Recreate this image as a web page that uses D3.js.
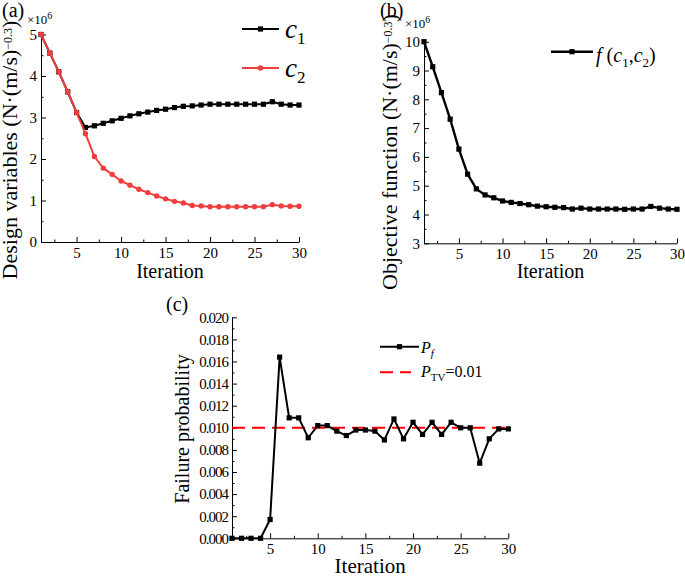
<!DOCTYPE html>
<html>
<head>
<meta charset="utf-8">
<script src="https://cdn.jsdelivr.net/npm/d3@7"></script>
<style>
	body { margin: 0; background: #fff; }
</style>
</head>
<body>
<svg id="chart" width="685" height="576"></svg>
<script>
	// iteration numbers (x) and the series
	var iterations = [1,2,3,4,5,6,7,8,9,10,11,12,13,14,15,16,17,18,19,20,21,22,23,24,25,26,27,28,29,30];
	var c1 = [5.00,4.55,4.10,3.62,3.12,2.76,2.80,2.86,2.92,2.98,3.04,3.09,3.13,3.17,3.20,3.24,3.27,3.28,3.30,3.32,3.32,3.32,3.32,3.32,3.32,3.32,3.38,3.32,3.30,3.30];
	var c2 = [5.00,4.55,4.10,3.62,3.12,2.61,2.06,1.78,1.63,1.47,1.37,1.27,1.19,1.11,1.04,0.98,0.94,0.88,0.87,0.85,0.85,0.85,0.85,0.85,0.85,0.85,0.90,0.87,0.86,0.86];
	var objective = [10.0,9.13,8.23,7.31,6.27,5.40,4.89,4.68,4.58,4.47,4.42,4.38,4.34,4.29,4.27,4.25,4.24,4.19,4.22,4.19,4.19,4.19,4.19,4.18,4.19,4.19,4.28,4.22,4.19,4.18];
	var pf = [0,0,0,0,0.0017,0.0164,0.0109,0.0109,0.0091,0.0102,0.0102,0.0097,0.0093,0.0098,0.0098,0.0097,0.0089,0.0108,0.0090,0.0105,0.0094,0.0105,0.0094,0.0105,0.0100,0.0100,0.0068,0.0090,0.0099,0.0099];
	var pTV = 0.01;

	var xTicks = [5,10,15,20,25,30];
	var xMinor = [2.5,7.5,12.5,17.5,22.5,27.5];
	var ticksA = [0,1,2,3,4,5];
	var ticksB = [3,4,5,6,7,8,9,10];
	var ticksC = [0,0.002,0.004,0.006,0.008,0.010,0.012,0.014,0.016,0.018,0.020];

	var FONT = "'Liberation Serif', 'Times New Roman', serif";
	var RED = "#ef3e3e";
	var svg = d3.select("#chart").style("font-family", FONT);

	// one panel: left + bottom axes, ticks pointing inward, minor ticks halfway
	function panel(cfg) {
		var x = d3.scaleLinear().domain([1, 30]).range([cfg.left, cfg.right]);
		var y = d3.scaleLinear().domain(cfg.yDomain).range([cfg.bottom, cfg.top]);
		var g = svg.append("g");

		var minorY = [];
		for (var i = 0; i < cfg.yTicks.length - 1; i++) minorY.push((cfg.yTicks[i] + cfg.yTicks[i+1]) / 2);

		g.append("g").attr("transform", "translate(0," + cfg.bottom + ")")
			.call(d3.axisBottom(x).tickValues(xMinor).tickSizeInner(-2.5).tickSizeOuter(0).tickFormat(""))
			.call(function(s) { s.select(".domain").remove(); });
		g.append("g").attr("transform", "translate(" + cfg.left + ",0)")
			.call(d3.axisLeft(y).tickValues(minorY).tickSizeInner(-2.5).tickSizeOuter(0).tickFormat(""))
			.call(function(s) { s.select(".domain").remove(); });

		g.append("g").attr("transform", "translate(0," + cfg.bottom + ")")
			.call(d3.axisBottom(x).tickValues(xTicks).tickSizeInner(-5).tickSizeOuter(0).tickPadding(5.5));
		var ya = g.append("g").attr("transform", "translate(" + cfg.left + ",0)")
			.call(d3.axisLeft(y).tickValues(cfg.yTicks).tickSizeInner(-5).tickSizeOuter(0).tickPadding(4).tickFormat(cfg.fmt));
		g.selectAll("g").attr("font-family", FONT).attr("font-size", 15);
		g.selectAll(".tick text").style("font-family", FONT).style("font-size", "15px");
		if (cfg.yLetter) ya.selectAll(".tick text").style("letter-spacing", cfg.yLetter);
		g.selectAll(".domain, .tick line").attr("stroke", "#000");

		g.append("text")
			.attr("x", (cfg.left + cfg.right) / 2)
			.attr("y", cfg.xLabelY)
			.attr("text-anchor", "middle")
			.style("font-family", FONT)
			.style("font-size", cfg.xLabelSize + "px")
			.text("Iteration");

		return { g: g, x: x, y: y };
	}

	function series(p, values, color, width, marker) {
		var pts = iterations.map(function(it, i) { return [it, values[i]]; });
		p.g.append("path")
			.datum(pts)
			.attr("fill", "none")
			.attr("stroke", color)
			.attr("stroke-width", width)
			.attr("stroke-linejoin", "round")
			.attr("d", d3.line().x(function(d) { return p.x(d[0]); }).y(function(d) { return p.y(d[1]); }));
		if (marker == "circle") {
			p.g.append("g").selectAll("circle").data(pts).enter().append("circle")
				.attr("cx", function(d) { return p.x(d[0]); })
				.attr("cy", function(d) { return p.y(d[1]); })
				.attr("r", 2.7)
				.attr("fill", color);
		} else {
			p.g.append("g").selectAll("rect").data(pts).enter().append("rect")
				.attr("x", function(d) { return p.x(d[0]) - 2.6; })
				.attr("y", function(d) { return p.y(d[1]) - 2.6; })
				.attr("width", 5.2).attr("height", 5.2)
				.attr("fill", color);
		}
	}

	// rotated y label with the (m/s)^-0.3 unit
	function yLabel(x, y, size, main) {
		var t = svg.append("text")
			.attr("transform", "translate(" + x + "," + y + ") rotate(-90)")
			.attr("text-anchor", "middle")
			.style("font-family", FONT)
			.style("font-size", size + "px");
		t.append("tspan").text(main);
		if (main.indexOf("(N") >= 0) {
			t.append("tspan").attr("dy", -5).style("font-size", "12px").text("\u22120.3");
			t.append("tspan").attr("dy", 5).text(")");
		}
	}

	function label(x, y, txt, size) {
		svg.append("text").attr("x", x).attr("y", y)
			.style("font-family", FONT).style("font-size", size + "px").text(txt);
	}

	function times10(x, y) {
		var t = svg.append("text").attr("x", x).attr("y", y)
			.style("font-family", FONT).style("font-size", "13px");
		t.append("tspan").text("\u00d710");
		t.append("tspan").attr("dy", -5).style("font-size", "10px").text("6");
	}

	// legend text with italic letters and subscripts: parts = [text, italic, dy, size]
	function richText(x, y, size, parts) {
		var t = svg.append("text").attr("x", x).attr("y", y)
			.style("font-family", FONT).style("font-size", size + "px");
		var shift = 0;
		parts.forEach(function(p) {
			var s = t.append("tspan").text(p[0]);
			if (p[1]) s.style("font-style", "italic");
			var want = p[2] ? p[2] : 0;
			if (want != shift) { s.attr("dy", want - shift); shift = want; }
			if (p[2]) s.style("font-size", (p[3] || size * 0.65) + "px");
		});
		return t;
	}

	function legendLine(x0, x1, y, color, width, marker, dash) {
		svg.append("line").attr("x1", x0).attr("x2", x1).attr("y1", y).attr("y2", y)
			.attr("stroke", color).attr("stroke-width", width)
			.attr("stroke-dasharray", dash || null);
		var cx = (x0 + x1) / 2;
		if (marker == "circle") {
			svg.append("circle").attr("cx", cx).attr("cy", y).attr("r", 2.7).attr("fill", color);
		} else if (marker == "square") {
			svg.append("rect").attr("x", cx - 2.6).attr("y", y - 2.6).attr("width", 5.2).attr("height", 5.2).attr("fill", color);
		}
	}

	// (a) design variables
	var pa = panel({ left: 41, right: 299, top: 34.5, bottom: 242, yDomain: [0, 5], yTicks: ticksA,
		fmt: d3.format("d"), xLabelY: 278, xLabelSize: 20 });
	series(pa, c1, "#000", 2, "square");
	series(pa, c2, RED, 2, "circle");
	yLabel(17, 150, 22, "Design variables (N\u00b7(m/s)");
	label(2, 17, "(a)", 20);
	times10(27, 24);
	legendLine(242, 279, 29, "#000", 2, "square");
	richText(285, 38, 27, [["c", true], ["1", false, 6, 17]]);
	legendLine(242, 279, 68, RED, 2, "circle");
	richText(285, 77, 27, [["c", true], ["2", false, 6, 17]]);

	// (b) objective function
	var pb = panel({ left: 424, right: 677, top: 41.7, bottom: 243.3, yDomain: [3, 10], yTicks: ticksB,
		fmt: d3.format("d"), xLabelY: 278, xLabelSize: 20 });
	series(pb, objective, "#000", 2.4, "square");
	yLabel(397, 152, 22, "Objective function (N\u00b7(m/s)");
	label(380, 17, "(b)", 20);
	times10(405, 28);
	legendLine(551, 593, 51.7, "#000", 2.4, "square");
	richText(596, 62, 20, [["f", true], [" (", false], ["c", true], ["1", false, 5, 13], [",", false, 0], ["c", true], ["2", false, 5, 13], [")", false, 0]]);

	// (c) failure probability
	var pc = panel({ left: 232, right: 508.3, top: 317.3, bottom: 538.3, yDomain: [0, 0.02], yTicks: ticksC,
		fmt: d3.format(".3f"), xLabelY: 573, xLabelSize: 21, yLetter: "-1px" });
	pc.g.append("line")
		.attr("x1", pc.x(1)).attr("x2", pc.x(30))
		.attr("y1", pc.y(pTV)).attr("y2", pc.y(pTV))
		.attr("stroke", "#f00").attr("stroke-width", 2).attr("stroke-dasharray", "13,7");
	series(pc, pf, "#000", 2, "square");
	yLabel(189, 429, 20, "Failure probability");
	label(166, 311, "(c)", 20);
	legendLine(380, 419, 346.7, "#000", 2, "square");
	richText(421, 353, 16, [["P", true], ["f", true, 4, 11]]);
	legendLine(380, 411, 372.3, "#f00", 2, null, "13,7");
	richText(421, 377, 16, [["P", true], ["TV", false, 4, 11], ["=0.01", false, 0]]);
</script>
</body>
</html>
